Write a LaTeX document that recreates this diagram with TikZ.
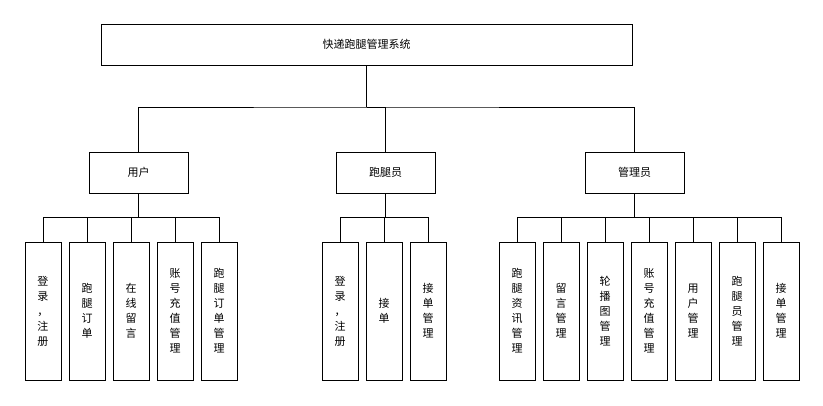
\documentclass[tikz,border=0pt]{standalone}
\usepackage{fontspec}
\setmainfont{Noto Sans CJK SC}
\begin{document}
\begin{tikzpicture}[x=1pt,y=-1pt,
  box/.style={draw,line width=1pt,inner sep=0pt,font=\fontsize{11}{13}\selectfont},
  leaf/.style={box,minimum width=36pt,minimum height=138pt,align=center,font=\fontsize{11}{15}\selectfont},
  mid/.style={box,minimum width=99pt,minimum height=41pt},
  ln/.style={line width=1pt}]
\useasboundingbox (0,0) rectangle (823,405);
\node[box,minimum width=531pt,minimum height=41pt] (top) at (366.5,44.5) {快递跑腿管理系统};
\node[mid] (u) at (138.5,172.5) {用户};
\node[mid] (r) at (385.5,172.5) {跑腿员};
\node[mid] (m) at (634.5,172.5) {管理员};
\coordinate (j0) at (366.5,107);
\draw[ln] (top.south) -- (j0);
\draw[ln] (u.north) |- (j0) -| (m.north);
\draw[ln] (j0) -| (r.north);
% user leaves
\foreach \i/\t in {0/{登\\录\\，\\注\\册},1/{跑\\腿\\订\\单},2/{在\\线\\留\\言},3/{账\\号\\充\\值\\管\\理},4/{跑\\腿\\订\\单\\管\\理}}
  \node[leaf] (u\i) at (43+44*\i,311) {\t};
\foreach \i/\t in {0/{登\\录\\，\\注\\册},1/{接\\单},2/{接\\单\\管\\理}}
  \node[leaf] (r\i) at (340+44*\i,311) {\t};
\foreach \i/\t in {0/{跑\\腿\\资\\讯\\管\\理},1/{留\\言\\管\\理},2/{轮\\播\\图\\管\\理},3/{账\\号\\充\\值\\管\\理},4/{用\\户\\管\\理},5/{跑\\腿\\员\\管\\理},6/{接\\单\\管\\理}}
  \node[leaf] (m\i) at (517+44*\i,311) {\t};
\coordinate (ju) at (138.5,217);
\coordinate (jr) at (385.5,217);
\coordinate (jm) at (634.5,217);
\draw[ln] (u.south) -- (ju);
\draw[ln] (r.south) -- (jr);
\draw[ln] (m.south) -- (jm);
\foreach \i in {0,...,4} \draw[ln] (ju) -| (u\i.north);
\foreach \i in {0,...,2} \draw[ln] (jr) -| (r\i.north);
\foreach \i in {0,...,6} \draw[ln] (jm) -| (m\i.north);
\end{tikzpicture}
\end{document}
